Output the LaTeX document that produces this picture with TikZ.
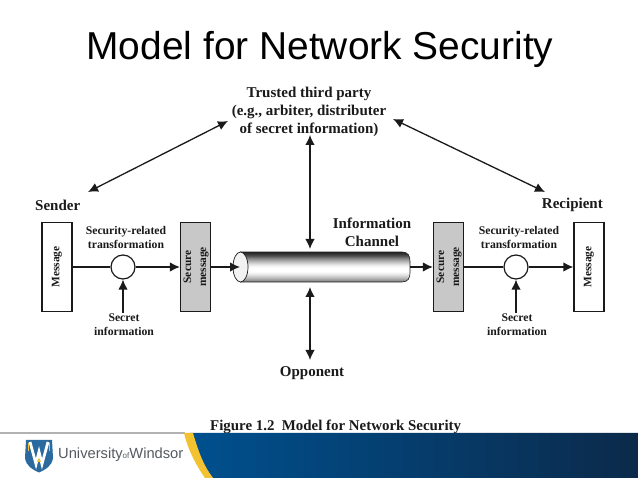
\documentclass[tikz,border=0pt]{standalone}
\usepackage{fontspec}
\setmainfont{Liberation Serif}
\newfontfamily\titlefont{Liberation Sans}
\usetikzlibrary{arrows.meta,shadings}
\definecolor{bandL}{HTML}{00508F}
\definecolor{bandR}{HTML}{0B2A4A}
\definecolor{uniY}{HTML}{F2C230}
\definecolor{lineK}{HTML}{1A1A1A}
\definecolor{boxG}{HTML}{C8C8C8}
\definecolor{logoB}{HTML}{2A6A9E}
\definecolor{logoG}{HTML}{555B60}
\tikzset{
  x=1pt,y=-1pt,
  tip/.tip={Latex[length=10pt,width=9.5pt]},
  conn/.style={draw=lineK,line width=1.3pt,-tip},
  conntwo/.style={draw=lineK,line width=1.3pt,tip-tip},
  plain/.style={draw=lineK,line width=1.3pt},
  lbl/.style={font=\fontsize{11.7}{14}\selectfont\bfseries,text=lineK,align=center,inner sep=0pt},
  biglbl/.style={font=\fontsize{15}{18}\selectfont\bfseries,text=lineK,align=center,inner sep=0pt},
  msgbox/.style={draw=lineK,line width=1.3pt,fill=white,minimum width=30pt,minimum height=89pt,inner sep=0pt,
     font=\fontsize{11.4}{15}\selectfont\bfseries,text=lineK,align=center},
  secbox/.style={msgbox,fill=boxG},
  xform/.style={circle,draw=lineK,line width=1.2pt,fill=white,minimum size=24pt,inner sep=0pt},
}
\begin{document}
\begin{tikzpicture}
\useasboundingbox (0,0) rectangle (638,478);
\fill[white] (0,0) rectangle (638,478);
% title
\node[font=\titlefont\fontsize{38.9}{42}\selectfont,text=black,inner sep=0pt] (title) at (320,49) {Model for Network Security};
% labels
\node[biglbl] (ttp) at (309,112) {Trusted third party\\(e.g., arbiter, distributer\\of secret information)};
\node[biglbl,anchor=west] (sender) at (35,205) {Sender};
\node[biglbl,anchor=east] (recipient) at (603,205) {Recipient};
\node[biglbl] (infoch) at (372,232) {Information\\Channel};
\node[biglbl] (opp) at (312,373) {Opponent};
\coordinate (oppTop) at (310,360);
\coordinate (ttpBot) at (310,135);
\coordinate (ttpL) at (228,121);
\coordinate (ttpR) at (393,119);
\coordinate (sendTop) at (88,192);
\coordinate (recTop) at (545,192);
% boxes
\node[msgbox] (m1) at (57,267) {\rotatebox{90}{Message}};
\node[secbox] (s1) at (195.5,267) {\rotatebox{90}{\begin{tabular}{@{}c@{}}Secure\\message\end{tabular}}};
\node[secbox] (s2) at (448.5,267) {\rotatebox{90}{\begin{tabular}{@{}c@{}}Secure\\message\end{tabular}}};
\node[msgbox] (m2) at (589,267) {\rotatebox{90}{Message}};
\node[xform] (c1) at (123,267) {};
\node[xform] (c2) at (516,267) {};
\node[lbl] (t1) at (126,238) {Security-related\\transformation};
\node[lbl] (t2) at (519,238) {Security-related\\transformation};
\node[lbl] (k1) at (124,325) {Secret\\information};
\node[lbl] (k2) at (517,325) {Secret\\information};
% cylinder: dark at the top, brightest two thirds down, grey at the bottom
\begin{scope}
\clip (240,252) -- (402,252) .. controls (408,252) and (410,256) .. (410,261) -- (410,273) .. controls (410,278) and (408,282) .. (402,282) -- (240,282) -- cycle;
\foreach \v [count=\i from 0] in {85,82,78,72,66,58,50,43,36,30,24,18,13,8,4,2,0,0,0,0,2,5,9,13,18,23,29,35,41,47}
  \fill[black!\v] (235,252+\i) rectangle (412,252+\i+1.3);
\end{scope}
\draw[lineK,line width=.6pt] (240,252) -- (402,252) .. controls (408,252) and (410,256) .. (410,261) -- (410,273) .. controls (410,278) and (408,282) .. (402,282) -- (240,282);
\draw[lineK,line width=.7pt,fill=black!5] (240.5,267) ellipse [x radius=7.5,y radius=15];
\coordinate (cylIn) at (240,267);
\coordinate (cylOut) at (410,267);
\coordinate (cylTop) at (310,249);
\coordinate (cylBot) at (310,287);
% connectors
\draw[plain] (m1.east) -- (c1.west);
\draw[conn] (c1.east) -- (s1.west);
\draw[conn] (s1.east) -- (cylIn);
\draw[conn] (cylOut) -- (s2.west);
\draw[plain] (s2.east) -- (c2.west);
\draw[conn] (c2.east) -- (m2.west);
\draw[conn] (k1.north -| c1) ++(0,-1) -- (c1.south);
\draw[conn] (k2.north -| c2) ++(0,-1) -- (c2.south);
\draw[conntwo] (ttpBot) -- (cylTop);
\draw[conntwo] (cylBot) -- (oppTop);
\draw[conntwo] (ttpL) -- (sendTop);
\draw[conntwo] (ttpR) -- (recTop);
% caption
\node[biglbl,font=\fontsize{14.9}{16}\selectfont\bfseries,anchor=west] (cap) at (210,427) {Figure 1.2\ \ Model for Network Security};
% footer
\fill[black!30] (0,432.5) rectangle (185,434.5);
\shade[left color=bandL,right color=bandR] (190,433) .. controls (195,450) and (203,465) .. (213,478) -- (638,478) -- (638,433) -- cycle;
\fill[uniY] (184,433) .. controls (188,450) and (196,465) .. (205,478) -- (213,478) .. controls (203,465) and (198,450) .. (193,433) -- cycle;
% logo
\fill[logoB] (26,440) -- (52,440) -- (53,458) .. controls (52,466) and (45,470) .. (39,472.5) .. controls (33,470) and (26,466) .. (25,458) -- cycle;
\draw[white,line width=2.8pt,line join=miter] (30,442) -- (36,464) -- (39,452) -- (42,464) -- (48,442);
\draw[uniY,line width=1.2pt] (28.5,443) -- (28.5,451) (49.5,443) -- (49.5,451);
\fill[uniY] (39,458) -- (37,462) -- (41,462) -- cycle;
\node[anchor=west,inner sep=0pt,text=logoG,font=\titlefont\fontsize{14.7}{18}\selectfont] (uw) at (58,455) {University{\fontsize{8}{10}\selectfont of}Windsor};
\end{tikzpicture}
\end{document}
